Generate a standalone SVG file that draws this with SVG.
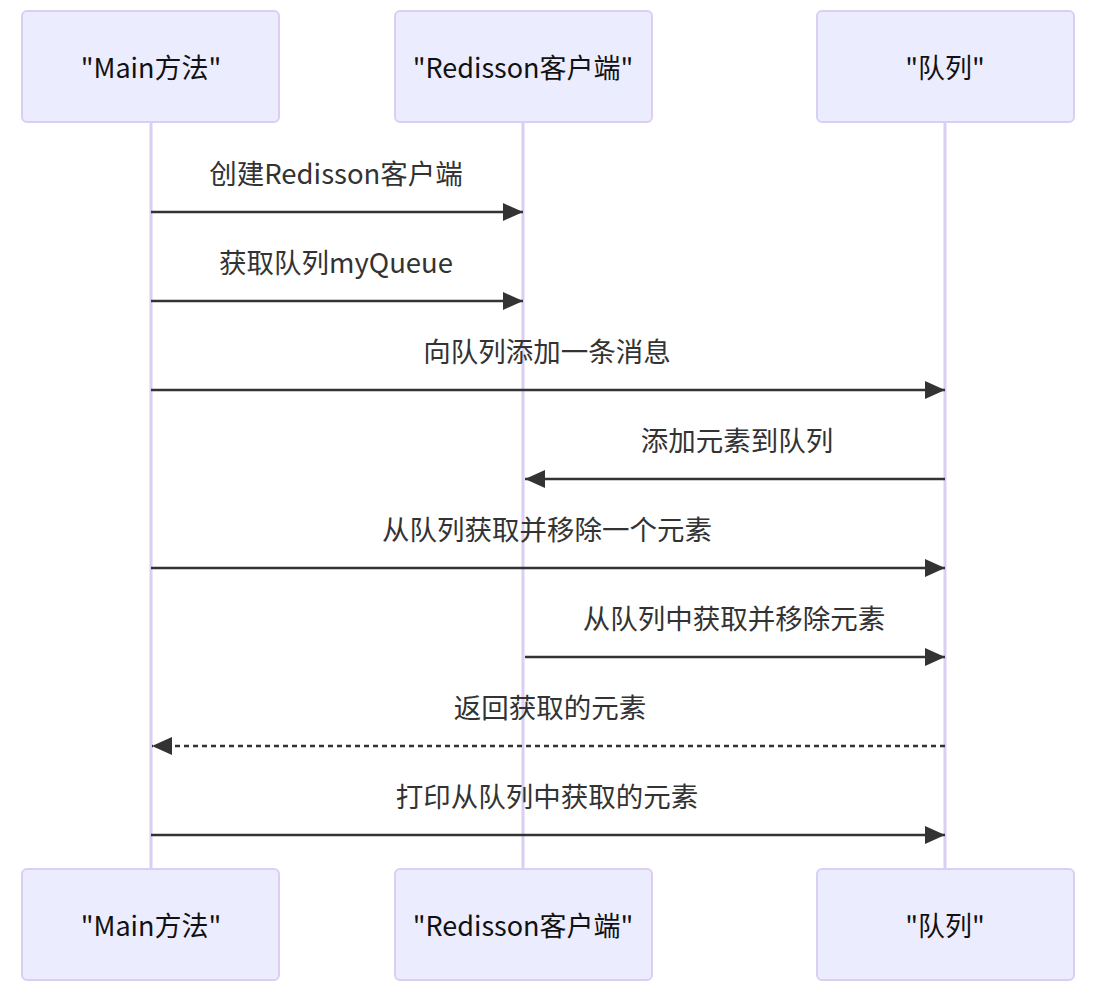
<svg xmlns="http://www.w3.org/2000/svg" width="1098" height="997" viewBox="0 0 1098 997">
<style>
.actor{fill:#ECECFF;stroke:#DACEF3;stroke-width:2}
.life{stroke:#DACEF3;stroke-width:3}
.atext{font-family:"Noto Sans CJK SC","Microsoft YaHei",sans-serif;font-size:27px;fill:#111;text-anchor:middle;dominant-baseline:central}
.msg{stroke:#333;stroke-width:2.5;fill:none}
.dash{stroke-dasharray:5,4}
.mtext{font-family:"Noto Sans CJK SC","Microsoft YaHei",sans-serif;font-size:27.5px;fill:#333;text-anchor:middle;dominant-baseline:central}
</style>
<defs>
<marker id="ah" viewBox="0 0 20 18" refX="20" refY="9" markerWidth="20" markerHeight="18" markerUnits="userSpaceOnUse" orient="auto">
<path d="M0,0 L20,9 L0,18 Z" fill="#333"/>
</marker>
</defs>
<g id="lifelines">
<line class="life" x1="151" y1="122" x2="151" y2="869"/>
<line class="life" x1="523" y1="122" x2="523" y2="869"/>
<line class="life" x1="945" y1="122" x2="945" y2="869"/>
</g>
<g id="main-top"><rect class="actor" x="22" y="11" width="257" height="111" rx="5"/><text class="atext" x="151" y="66">"Main方法"</text></g>
<g id="redisson-top"><rect class="actor" x="395" y="11" width="257" height="111" rx="5"/><text class="atext" x="523" y="66">"Redisson客户端"</text></g>
<g id="queue-top"><rect class="actor" x="817" y="11" width="257" height="111" rx="5"/><text class="atext" x="945" y="66">"队列"</text></g>
<g id="main-bottom"><rect class="actor" x="22" y="869" width="257" height="111" rx="5"/><text class="atext" x="151" y="924">"Main方法"</text></g>
<g id="redisson-bottom"><rect class="actor" x="395" y="869" width="257" height="111" rx="5"/><text class="atext" x="523" y="924">"Redisson客户端"</text></g>
<g id="queue-bottom"><rect class="actor" x="817" y="869" width="257" height="111" rx="5"/><text class="atext" x="945" y="924">"队列"</text></g>
<g id="connectors">
<line class="msg" x1="151" y1="212" x2="523" y2="212" marker-end="url(#ah)"/>
<text class="mtext" x="336" y="172">创建Redisson客户端</text>
<line class="msg" x1="151" y1="301" x2="523" y2="301" marker-end="url(#ah)"/>
<text class="mtext" x="336" y="261">获取队列myQueue</text>
<line class="msg" x1="151" y1="390" x2="945" y2="390" marker-end="url(#ah)"/>
<text class="mtext" x="547" y="350">向队列添加一条消息</text>
<line class="msg" x1="945" y1="479" x2="525" y2="479" marker-end="url(#ah)"/>
<text class="mtext" x="737" y="439">添加元素到队列</text>
<line class="msg" x1="151" y1="568" x2="945" y2="568" marker-end="url(#ah)"/>
<text class="mtext" x="547" y="528">从队列获取并移除一个元素</text>
<line class="msg" x1="525" y1="657" x2="945" y2="657" marker-end="url(#ah)"/>
<text class="mtext" x="734" y="617">从队列中获取并移除元素</text>
<line class="msg dash" x1="945" y1="746" x2="152" y2="746" marker-end="url(#ah)"/>
<text class="mtext" x="550" y="706">返回获取的元素</text>
<line class="msg" x1="151" y1="835" x2="945" y2="835" marker-end="url(#ah)"/>
<text class="mtext" x="547" y="795">打印从队列中获取的元素</text>
</g>
</svg>
